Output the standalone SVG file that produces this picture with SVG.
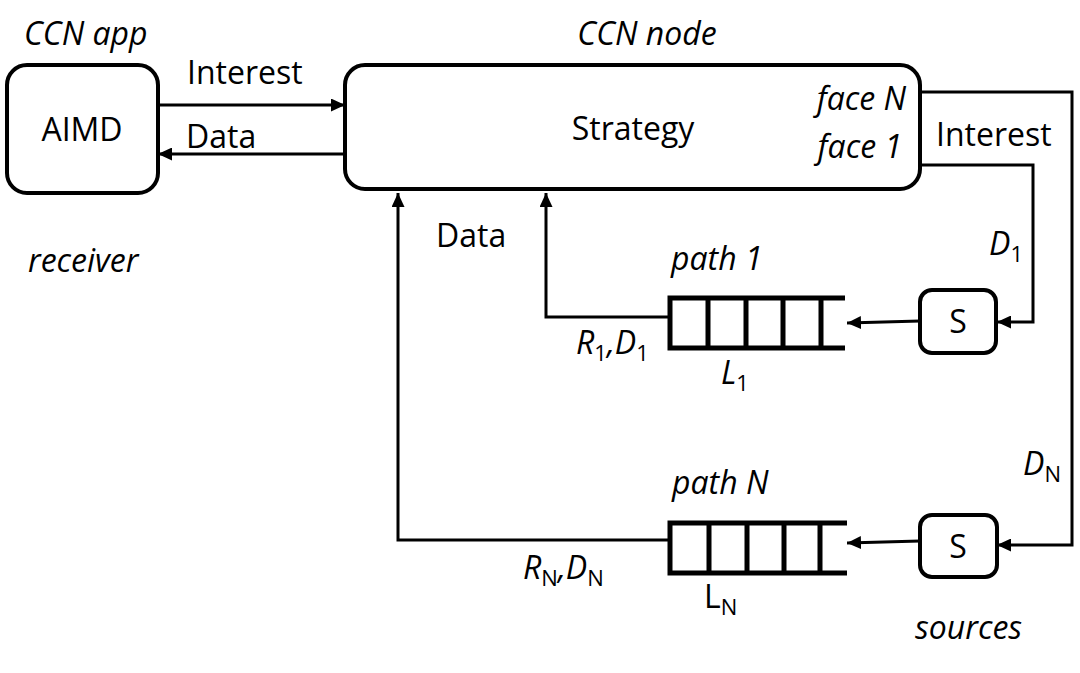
<svg xmlns="http://www.w3.org/2000/svg" width="1080" height="673" viewBox="0 0 1080 673">
<style>
text{font-family:"Open Sans","Noto Sans","Liberation Sans",sans-serif;font-size:32px;fill:#000}
.i{font-style:italic}
.sub{font-size:22px;font-style:normal}
.box{fill:#fff;stroke:#000;stroke-width:4}
.conn{fill:none;stroke:#000;stroke-width:3}
.q{fill:none;stroke:#000;stroke-width:5;stroke-linecap:butt}
</style>
<defs>
<marker id="ah" markerUnits="userSpaceOnUse" markerWidth="15" markerHeight="13" refX="14" refY="6.5" orient="auto">
<path d="M0,0 L14,6.5 L0,13 z" fill="#000"/>
</marker>
</defs>
<g id="connectors">
<path class="conn" d="M158,105 H345" marker-end="url(#ah)"/>
<path class="conn" d="M345,154 H158" marker-end="url(#ah)"/>
<path class="conn" d="M920,92 H1072 V545 H997" marker-end="url(#ah)"/>
<path class="conn" d="M920,165 H1033 V322 H997" marker-end="url(#ah)"/>
<path class="conn" d="M920,321 L847,323" marker-end="url(#ah)"/>
<path class="conn" d="M920,541 L847,543" marker-end="url(#ah)"/>
<path class="conn" d="M670,317 H546 V193" marker-end="url(#ah)"/>
<path class="conn" d="M670,540 H398 V193" marker-end="url(#ah)"/>
</g>
<g id="app">
<rect class="box" x="7" y="65" width="151" height="128" rx="20"/>
<text x="82" y="141" text-anchor="middle">AIMD</text>
<text class="i" x="24" y="45">CCN app</text>
<text class="i" x="28" y="272">receiver</text>
</g>
<g id="node">
<rect class="box" x="345" y="65" width="575" height="124" rx="20"/>
<text x="633" y="140" text-anchor="middle">Strategy</text>
<text class="i" x="647" y="45" text-anchor="middle">CCN node</text>
<text class="i" x="906" y="110" text-anchor="end">face N</text>
<text class="i" x="902" y="158" text-anchor="end">face 1</text>
</g>
<g id="labels">
<text x="187" y="84">Interest</text>
<text x="186" y="148">Data</text>
<text x="936" y="146">Interest</text>
<text x="436" y="247">Data</text>
<text class="i" x="989" y="255">D<tspan class="sub" dy="7">1</tspan></text>
<text class="i" x="1023" y="475">D<tspan class="sub" dy="7">N</tspan></text>
</g>
<g id="path1">
<text class="i" x="671" y="270">path 1</text>
<path class="q" d="M845,298 H670 V348 H845 M708,298 V348 M746,298 V348 M783,298 V348 M821,298 V348"/>
<text class="i" x="576" y="354">R<tspan class="sub" dy="7">1</tspan><tspan dy="-7">,D</tspan><tspan class="sub" dy="7">1</tspan></text>
<text class="i" x="721" y="384">L<tspan class="sub" dy="7">1</tspan></text>
</g>
<g id="pathN">
<text class="i" x="672" y="494">path N</text>
<path class="q" d="M847,523 H670 V573 H847 M709,523 V573 M747,523 V573 M784,523 V573 M820,523 V573"/>
<text class="i" x="523" y="579">R<tspan class="sub" dy="7">N</tspan><tspan dy="-7">,D</tspan><tspan class="sub" dy="7">N</tspan></text>
<text x="704" y="608">L<tspan class="sub" dy="7">N</tspan></text>
</g>
<g id="source1">
<rect class="box" x="920" y="290" width="76" height="63" rx="12"/>
<text x="958" y="333" text-anchor="middle">S</text>
</g>
<g id="sourceN">
<rect class="box" x="920" y="515" width="77" height="62" rx="12"/>
<text x="958" y="558" text-anchor="middle">S</text>
<text class="i" x="915" y="639">sources</text>
</g>
</svg>
